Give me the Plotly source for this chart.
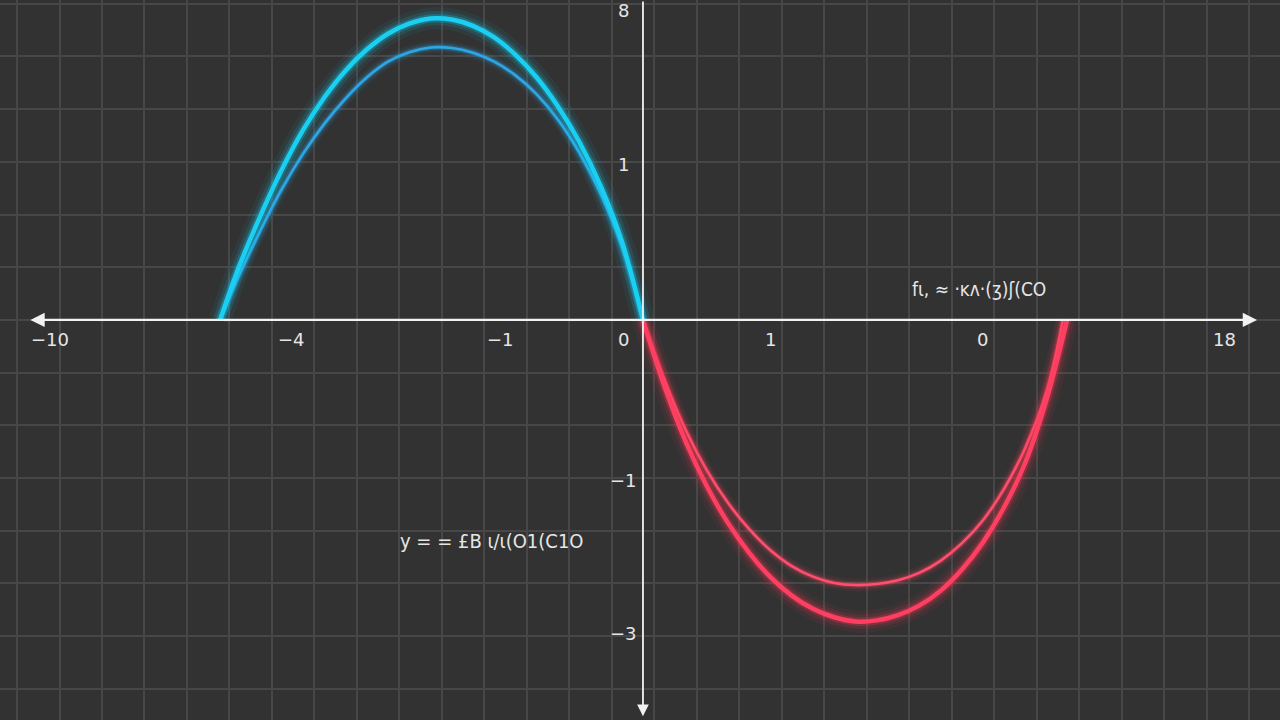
import plotly.graph_objects as go

# ---- data (grid units) ----
blue_outer_x = [-9.95, -9.5, -9.0, -8.5, -8.0, -7.5, -7.0, -6.5, -6.0, -5.5, -5.0,
                -4.5, -4.0, -3.5, -3.0, -2.5, -2.0, -1.5, -1.0, -0.5, 0.0]
blue_outer_y = [0.0, 1.02, 1.98, 2.85, 3.6, 4.22, 4.73, 5.13, 5.43, 5.62, 5.72,
                5.7, 5.58, 5.36, 5.03, 4.6, 4.05, 3.38, 2.55, 1.5, 0.0]

blue_inner_x = [-9.95, -9.5, -9.0, -8.5, -8.0, -7.5, -7.0, -6.5, -6.0, -5.5, -5.0,
                -4.5, -4.0, -3.5, -3.0, -2.5, -2.0, -1.5, -1.0, -0.5, 0.0]
blue_inner_y = [0.0, 0.85, 1.7, 2.48, 3.15, 3.72, 4.2, 4.6, 4.9, 5.08, 5.17,
                5.16, 5.07, 4.9, 4.64, 4.28, 3.8, 3.18, 2.4, 1.4, 0.0]

red_outer_x = [0.0, 0.5, 1.0, 1.5, 2.0, 2.5, 3.0, 3.5, 4.0, 4.5, 5.0,
               5.5, 6.0, 6.5, 7.0, 7.5, 8.0, 8.5, 9.0, 9.5, 9.98]
red_outer_y = [0.0, -1.25, -2.3, -3.15, -3.85, -4.42, -4.88, -5.23, -5.48, -5.64, -5.72,
               -5.7, -5.6, -5.42, -5.14, -4.74, -4.22, -3.55, -2.7, -1.5, 0.0]

red_inner_x = [0.0, 0.5, 1.0, 1.5, 2.0, 2.5, 3.0, 3.5, 4.0, 4.5, 5.0,
               5.5, 6.0, 6.5, 7.0, 7.5, 8.0, 8.5, 9.0, 9.5, 9.88]
red_inner_y = [0.0, -1.12, -2.08, -2.85, -3.47, -3.97, -4.37, -4.67, -4.87, -4.99, -5.03,
               -5.01, -4.94, -4.8, -4.57, -4.24, -3.8, -3.2, -2.42, -1.35, 0.0]

x_tick_labels = ["\u221210", "\u22124", "\u22121", "0", "1", "0", "18"]
x_tick_pos = [-13.95, -8.26, -3.36, -0.47, 2.99, 8.0, 13.69]
y_tick_labels = ["8", "1", "\u22121", "\u22123"]
y_tick_pos = [5.88, 2.94, -3.04, -5.94]

label_right = "f\u0269, \u2248 \u00b7\u0138\u028c\u00b7(\u0292)\u0283(CO"
label_left = "y = = \u00a3B \u0269/\u0269(O1(C1O"

X_RANGE = [-15.13, 14.99]
Y_RANGE = [-7.59, 6.07]
X_AXIS_EXT = [-14.45, 14.45]
Y_AXIS_EXT = [6.07, -7.52]

BG = "#323232"
GRID = "#474747"
AX = "#f2f2f2"
TXT = "#e6e6e6"

fig = go.Figure()


def glow_line(xs, ys, color_rgb, core_w, core_color):
    r, g, b = color_rgb
    for w, a in [(core_w * 5, 0.06), (core_w * 3.2, 0.12), (core_w * 1.9, 0.25)]:
        fig.add_trace(go.Scatter(
            x=xs, y=ys, mode="lines",
            line=dict(color=f"rgba({r},{g},{b},{a})", width=w, shape="spline", smoothing=1.0),
            hoverinfo="skip", showlegend=False))
    fig.add_trace(go.Scatter(
        x=xs, y=ys, mode="lines",
        line=dict(color=core_color, width=core_w, shape="spline", smoothing=1.0),
        hoverinfo="skip", showlegend=False))


glow_line(blue_inner_x, blue_inner_y, (40, 170, 235), 2.6, "#2ea6e6")
glow_line(blue_outer_x, blue_outer_y, (20, 210, 245), 4.5, "#1ad0f2")
glow_line(red_inner_x, red_inner_y, (255, 70, 100), 2.6, "#ff4f6e")
glow_line(red_outer_x, red_outer_y, (255, 55, 85), 4.5, "#ff3f62")

annotations = []
# axes with arrows
annotations.append(dict(x=X_AXIS_EXT[1], y=0, ax=X_AXIS_EXT[0], ay=0, xref="x", yref="y",
                        axref="x", ayref="y", showarrow=True, arrowside="end+start",
                        arrowhead=2, arrowsize=1.3, arrowwidth=2.2, arrowcolor=AX, text=""))
annotations.append(dict(x=0, y=Y_AXIS_EXT[1], ax=0, ay=Y_AXIS_EXT[0], xref="x", yref="y",
                        axref="x", ayref="y", showarrow=True, arrowside="end",
                        arrowhead=2, arrowsize=1.3, arrowwidth=1.8, arrowcolor=AX, text=""))

for t, p in zip(x_tick_labels, x_tick_pos):
    annotations.append(dict(x=p, y=-0.38, xref="x", yref="y", text=t, showarrow=False,
                            font=dict(family="DejaVu Sans", size=18, color=TXT)))
for t, p in zip(y_tick_labels, y_tick_pos):
    annotations.append(dict(x=-0.45, y=p, xref="x", yref="y", text=t, showarrow=False,
                            font=dict(family="DejaVu Sans", size=18, color=TXT)))

annotations.append(dict(x=7.9, y=0.59, xref="x", yref="y", text=label_right, showarrow=False,
                        font=dict(family="Liberation Sans Narrow, DejaVu Sans Condensed", size=19, color=TXT)))
annotations.append(dict(x=-3.55, y=-4.2, xref="x", yref="y", text=label_left, showarrow=False,
                        font=dict(family="Liberation Sans Narrow, DejaVu Sans Condensed", size=20, color=TXT)))

fig.update_layout(
    width=1280, height=720,
    margin=dict(l=0, r=0, t=0, b=0),
    paper_bgcolor=BG, plot_bgcolor=BG,
    showlegend=False,
    annotations=annotations,
    xaxis=dict(range=X_RANGE, showgrid=True, gridcolor=GRID, gridwidth=1.5,
               tick0=0.27, dtick=1, showticklabels=False, zeroline=False, showline=False,
               fixedrange=True),
    yaxis=dict(range=Y_RANGE, showgrid=True, gridcolor=GRID, gridwidth=1.5,
               tick0=0, dtick=1, showticklabels=False, zeroline=False, showline=False,
               fixedrange=True),
)

fig.write_html("out.html", config={"displayModeBar": False},
               post_script="document.body.style.margin='0';document.body.style.background='#323232';")
